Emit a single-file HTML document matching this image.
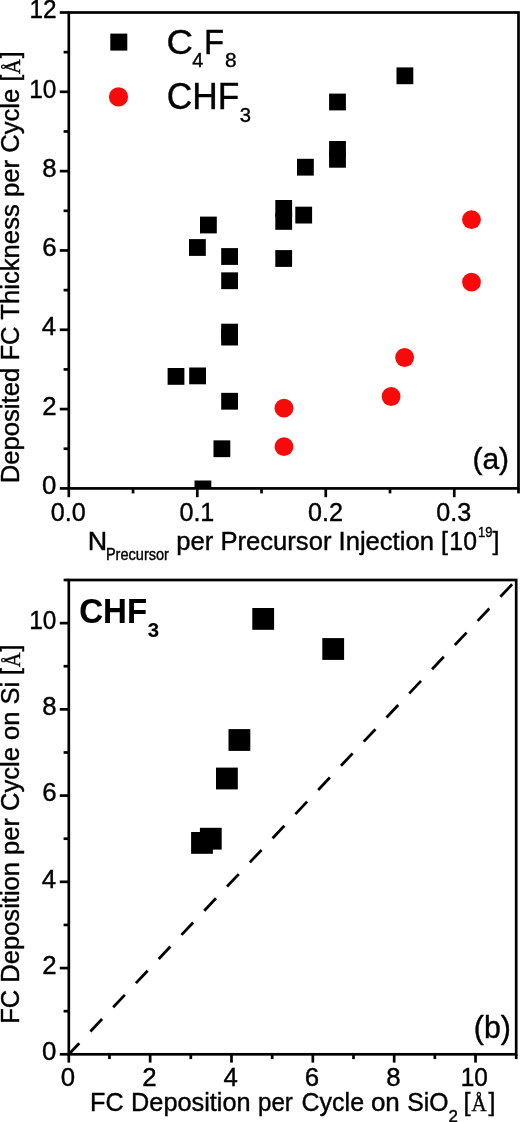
<!DOCTYPE html>
<html lang="en"><head><meta charset="utf-8"><title>Figure</title>
<style>
html,body{margin:0;padding:0;background:#fff;}
body{width:520px;height:1122px;overflow:hidden;}
svg{display:block;filter:blur(0.3px);}
text{font-family:"Liberation Sans",sans-serif;fill:#000;stroke:#000;stroke-width:0.4px;}
.b{font-weight:bold;stroke-width:0.15px;}
.ser{font-family:"Liberation Serif",serif;}
</style></head><body>
<svg width="520" height="1122" viewBox="0 0 520 1122">
<rect x="0" y="0" width="520" height="1122" fill="#fff"/>
<g id="plot-a">
<g fill="#000">
<rect x="200.00" y="216.60" width="16.8" height="16.8"/>
<rect x="189.00" y="239.10" width="16.8" height="16.8"/>
<rect x="221.20" y="248.10" width="16.8" height="16.8"/>
<rect x="221.20" y="272.35" width="16.8" height="16.8"/>
<rect x="396.50" y="67.40" width="16.8" height="16.8"/>
<rect x="329.10" y="93.60" width="16.8" height="16.8"/>
<rect x="329.10" y="141.00" width="16.8" height="16.8"/>
<rect x="329.10" y="150.90" width="16.8" height="16.8"/>
<rect x="297.00" y="158.80" width="16.8" height="16.8"/>
<rect x="275.30" y="200.00" width="16.8" height="16.8"/>
<rect x="275.30" y="213.00" width="16.8" height="16.8"/>
<rect x="295.30" y="206.70" width="16.8" height="16.8"/>
<rect x="275.30" y="250.10" width="16.8" height="16.8"/>
<rect x="221.20" y="323.70" width="16.8" height="16.8"/>
<rect x="221.20" y="328.70" width="16.8" height="16.8"/>
<rect x="167.60" y="368.00" width="16.8" height="16.8"/>
<rect x="189.20" y="367.50" width="16.8" height="16.8"/>
<rect x="221.20" y="392.85" width="16.8" height="16.8"/>
<rect x="213.50" y="440.35" width="16.8" height="16.8"/>
<rect x="194.50" y="480.50" width="16.8" height="7.90"/>
</g>
<g fill="#f80a0a">
<circle cx="471.5" cy="219.6" r="9.4"/>
<circle cx="471.5" cy="282.1" r="9.4"/>
<circle cx="404.6" cy="357.5" r="9.4"/>
<circle cx="391.1" cy="396.5" r="9.4"/>
<circle cx="284.0" cy="408.2" r="9.4"/>
<circle cx="284.0" cy="446.7" r="9.4"/>
</g>
<g stroke="#000" stroke-width="2.7" fill="none" stroke-linecap="butt">
<rect x="68.8" y="12.5" width="449.7" height="475.9"/>
<line x1="59.8" y1="488.40" x2="68.8" y2="488.40"/>
<line x1="63.6" y1="448.74" x2="68.8" y2="448.74"/>
<line x1="59.8" y1="409.08" x2="68.8" y2="409.08"/>
<line x1="63.6" y1="369.43" x2="68.8" y2="369.43"/>
<line x1="59.8" y1="329.77" x2="68.8" y2="329.77"/>
<line x1="63.6" y1="290.11" x2="68.8" y2="290.11"/>
<line x1="59.8" y1="250.45" x2="68.8" y2="250.45"/>
<line x1="63.6" y1="210.79" x2="68.8" y2="210.79"/>
<line x1="59.8" y1="171.13" x2="68.8" y2="171.13"/>
<line x1="63.6" y1="131.48" x2="68.8" y2="131.48"/>
<line x1="59.8" y1="91.82" x2="68.8" y2="91.82"/>
<line x1="63.6" y1="52.16" x2="68.8" y2="52.16"/>
<line x1="59.8" y1="12.50" x2="68.8" y2="12.50"/>
<line x1="68.80" y1="488.4" x2="68.80" y2="497.2"/>
<line x1="133.04" y1="488.4" x2="133.04" y2="493.4"/>
<line x1="197.29" y1="488.4" x2="197.29" y2="497.2"/>
<line x1="261.53" y1="488.4" x2="261.53" y2="493.4"/>
<line x1="325.77" y1="488.4" x2="325.77" y2="497.2"/>
<line x1="390.01" y1="488.4" x2="390.01" y2="493.4"/>
<line x1="454.26" y1="488.4" x2="454.26" y2="497.2"/>
<line x1="518.50" y1="488.4" x2="518.50" y2="493.4"/>
</g>
<text font-size="25.80" transform="translate(42.05,494.10) scale(1.0000,1)">0</text>
<text font-size="25.80" transform="translate(42.37,414.78) scale(1.0000,1)">2</text>
<text font-size="25.80" transform="translate(41.79,335.47) scale(1.0000,1)">4</text>
<text font-size="25.80" transform="translate(42.18,256.15) scale(1.0000,1)">6</text>
<text font-size="25.80" transform="translate(42.18,176.83) scale(1.0000,1)">8</text>
<text font-size="25.80" transform="translate(29.25,97.52) scale(0.9450,1)">10</text>
<text font-size="25.80" transform="translate(29.56,18.20) scale(0.9450,1)">12</text>
<text font-size="25.80" transform="translate(50.79,520.50) scale(0.9750,1)">0.0</text>
<text font-size="25.80" transform="translate(179.40,520.50) scale(0.9750,1)">0.1</text>
<text font-size="25.80" transform="translate(307.91,520.50) scale(0.9750,1)">0.2</text>
<text font-size="25.80" transform="translate(436.31,520.50) scale(0.9750,1)">0.3</text>
<g>
<text font-size="25.50" transform="translate(18.80,483.32) rotate(-90) scale(1.0070,1)">Deposited FC Thickness per Cycle</text>
<text font-size="25.50" transform="translate(19.30,81.56) rotate(-90) scale(0.9531,1)">[</text>
<text class="ser" font-size="23.00" transform="translate(19.50,74.01) rotate(-90) scale(0.8942,1)">Å</text>
<text font-size="25.50" transform="translate(19.30,58.19) rotate(-90) scale(0.9804,1)">]</text>
</g>
<g>
<text font-size="25.50" transform="translate(87.78,550.20) scale(1.0551,1)">N</text>
<text font-size="16.00" transform="translate(105.90,560.10) scale(0.9100,1)">Precursor</text>
<text font-size="25.50" transform="translate(176.34,550.20) scale(1.0043,1)">per Precursor Injection</text>
<text font-size="25.50" transform="translate(440.96,550.20) scale(0.9928,1)">[</text>
<text font-size="25.50" transform="translate(449.34,550.20) scale(0.9750,1)">10</text>
<text font-size="15.50" transform="translate(478.03,536.70) scale(0.8341,1)">19</text>
<text font-size="25.50" transform="translate(492.41,550.20) scale(0.9804,1)">]</text>
</g>
<rect x="110.3" y="33.6" width="17" height="17" fill="#000"/>
<circle cx="118.5" cy="96.9" r="9.6" fill="#f80a0a"/>
<g>
<text font-size="36.00" transform="translate(166.47,53.50) scale(1.0189,1)">C</text>
<text font-size="21.00" transform="translate(192.35,67.10) scale(0.9430,1)">4</text>
<text font-size="36.00" transform="translate(203.89,53.50) scale(0.9117,1)">F</text>
<text font-size="21.00" transform="translate(224.91,67.10) scale(0.9929,1)">8</text>
<text font-size="36.00" transform="translate(166.83,108.60) scale(0.9811,1)">CHF</text>
<text font-size="21.00" transform="translate(239.64,122.10) scale(0.9624,1)">3</text>
</g>
<text font-size="30.00" transform="translate(472.43,469.20) scale(0.9992,1)">(a)</text>
</g>
<g id="plot-b">
<g fill="#000">
<rect x="252.30" y="608.00" width="21.8" height="21.8"/>
<rect x="322.30" y="638.10" width="21.8" height="21.8"/>
<rect x="228.50" y="729.10" width="21.8" height="21.8"/>
<rect x="216.00" y="767.60" width="21.8" height="21.8"/>
<rect x="199.90" y="827.80" width="21.8" height="21.8"/>
<rect x="191.10" y="832.00" width="21.8" height="21.8"/>
</g>
<line x1="68.8" y1="1054.3" x2="516.2" y2="580.0" stroke="#000" stroke-width="2.8" stroke-dasharray="17.1 16.1" stroke-dashoffset="1.8"/>
<g stroke="#000" stroke-width="2.7" fill="none" stroke-linecap="butt">
<rect x="68.8" y="580.0" width="447.4" height="474.3"/>
<line x1="59.8" y1="1054.30" x2="68.8" y2="1054.30"/>
<line x1="63.6" y1="1011.18" x2="68.8" y2="1011.18"/>
<line x1="59.8" y1="968.06" x2="68.8" y2="968.06"/>
<line x1="63.6" y1="924.95" x2="68.8" y2="924.95"/>
<line x1="59.8" y1="881.83" x2="68.8" y2="881.83"/>
<line x1="63.6" y1="838.71" x2="68.8" y2="838.71"/>
<line x1="59.8" y1="795.59" x2="68.8" y2="795.59"/>
<line x1="63.6" y1="752.47" x2="68.8" y2="752.47"/>
<line x1="59.8" y1="709.35" x2="68.8" y2="709.35"/>
<line x1="63.6" y1="666.24" x2="68.8" y2="666.24"/>
<line x1="59.8" y1="623.12" x2="68.8" y2="623.12"/>
<line x1="63.6" y1="580.00" x2="68.8" y2="580.00"/>
<line x1="68.80" y1="1054.3" x2="68.80" y2="1062.6"/>
<line x1="109.47" y1="1054.3" x2="109.47" y2="1059.1"/>
<line x1="150.15" y1="1054.3" x2="150.15" y2="1062.6"/>
<line x1="190.82" y1="1054.3" x2="190.82" y2="1059.1"/>
<line x1="231.49" y1="1054.3" x2="231.49" y2="1062.6"/>
<line x1="272.16" y1="1054.3" x2="272.16" y2="1059.1"/>
<line x1="312.84" y1="1054.3" x2="312.84" y2="1062.6"/>
<line x1="353.51" y1="1054.3" x2="353.51" y2="1059.1"/>
<line x1="394.18" y1="1054.3" x2="394.18" y2="1062.6"/>
<line x1="434.85" y1="1054.3" x2="434.85" y2="1059.1"/>
<line x1="475.53" y1="1054.3" x2="475.53" y2="1062.6"/>
<line x1="516.20" y1="1054.3" x2="516.20" y2="1059.1"/>
</g>
<text font-size="25.80" transform="translate(42.05,1060.00) scale(1.0000,1)">0</text>
<text font-size="25.80" transform="translate(42.37,973.76) scale(1.0000,1)">2</text>
<text font-size="25.80" transform="translate(41.79,887.53) scale(1.0000,1)">4</text>
<text font-size="25.80" transform="translate(42.18,801.29) scale(1.0000,1)">6</text>
<text font-size="25.80" transform="translate(42.18,715.05) scale(1.0000,1)">8</text>
<text font-size="25.80" transform="translate(29.25,628.82) scale(0.9450,1)">10</text>
<text font-size="25.80" transform="translate(60.81,1086.40) scale(1.0000,1)">0</text>
<text font-size="25.80" transform="translate(142.19,1086.40) scale(1.0000,1)">2</text>
<text font-size="25.80" transform="translate(223.60,1086.40) scale(1.0000,1)">4</text>
<text font-size="25.80" transform="translate(304.78,1086.40) scale(1.0000,1)">6</text>
<text font-size="25.80" transform="translate(386.22,1086.40) scale(1.0000,1)">8</text>
<text font-size="25.80" transform="translate(460.74,1086.40) scale(0.9450,1)">10</text>
<g>
<text font-size="25.50" transform="translate(18.80,1023.81) rotate(-90) scale(1.0016,1)">FC Deposition per Cycle on Si</text>
<text font-size="25.50" transform="translate(19.30,674.90) rotate(-90) scale(0.9729,1)">[</text>
<text class="ser" font-size="23.00" transform="translate(19.50,667.20) rotate(-90) scale(0.8819,1)">Å</text>
<text font-size="25.50" transform="translate(19.30,651.59) rotate(-90) scale(0.9804,1)">]</text>
</g>
<g>
<text font-size="25.50" transform="translate(90.02,1111.40) scale(0.9885,1)">FC</text>
<text font-size="25.50" transform="translate(131.11,1111.40) scale(0.9921,1)">Deposition</text>
<text font-size="25.50" transform="translate(258.03,1111.40) scale(0.9452,1)">per</text>
<text font-size="25.50" transform="translate(301.55,1111.40) scale(0.9806,1)">Cycle</text>
<text font-size="25.50" transform="translate(370.89,1111.40) scale(1.0210,1)">on</text>
<text font-size="25.50" transform="translate(407.19,1111.40) scale(0.9711,1)">SiO</text>
<text font-size="16.00" transform="translate(448.45,1122.10) scale(1.0577,1)">2</text>
<text font-size="25.50" transform="translate(463.46,1111.40) scale(0.9928,1)">[</text>
<text class="ser" font-size="23.00" transform="translate(471.39,1111.40) scale(0.9127,1)">Å</text>
<text font-size="25.50" transform="translate(488.41,1111.40) scale(0.9804,1)">]</text>
</g>
<g>
<text class="b" font-size="34.60" transform="translate(79.28,622.50) scale(0.9546,1)">CHF</text>
<text class="b" font-size="20.00" transform="translate(147.84,636.50) scale(1.0151,1)">3</text>
</g>
<text font-size="30.50" transform="translate(473.80,1038.40) scale(0.9948,1)">(b)</text>
</g>
</svg>
</body></html>
